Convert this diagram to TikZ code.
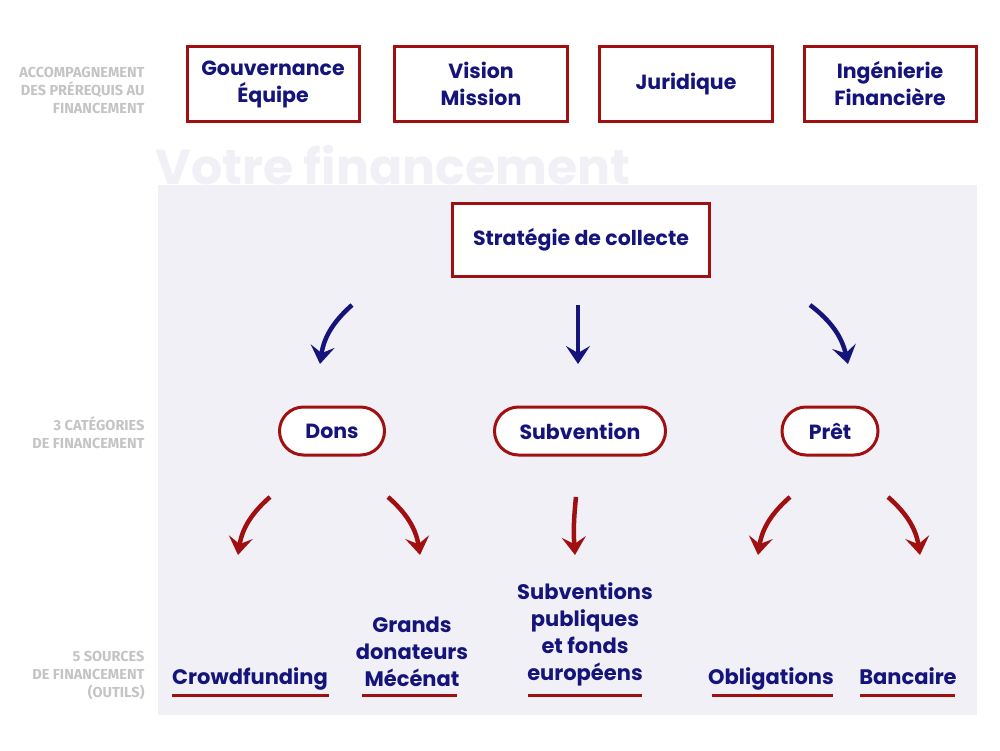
\documentclass[tikz,border=0pt]{standalone}
\usepackage{fontspec}
\setmainfont{Poppins}
\newfontfamily\lbl{Fira Sans}
\usetikzlibrary{arrows.meta}
\definecolor{navy}{HTML}{14147A}
\definecolor{rd}{HTML}{A01010}
\definecolor{panel}{HTML}{F1F0F7}
\definecolor{gr}{HTML}{C4C4C4}
\begin{document}
\begin{tikzpicture}[x=1pt,y=-1pt,
 box/.style={draw=rd,line width=3pt,fill=white,text=navy,font=\fontsize{20.5}{27}\selectfont\bfseries,align=center,inner sep=0pt},
 pill/.style={box,rounded corners=24pt},
 src/.style={text=navy,font=\fontsize{21}{27}\selectfont\bfseries,align=center,anchor=base},
 side/.style={text=gr,font=\lbl\fontsize{14.5}{18}\selectfont\bfseries,align=right,anchor=east},
 ba/.style={navy,line width=4.5pt,-{Stealth[length=18pt,width=24pt,inset=7pt]}},
 ra/.style={rd,line width=4.5pt,-{Stealth[length=18pt,width=24pt,inset=7pt]}},
 ul/.style={rd,line width=3pt}]
\useasboundingbox (0,0) rectangle (1000,750);
\fill[white] (0,0) rectangle (1000,750);
\node[text=panel,font=\fontsize{49}{56}\selectfont\bfseries,anchor=west] (vf) at (152,165) {Votre financement};
\fill[panel] (158,185) rectangle (977,715);
% top
\node[box,minimum width=172pt,minimum height=75pt] (g) at (273,84) {Gouvernance\\Équipe};
\node[box,minimum width=173pt,minimum height=75pt] (v) at (481,84) {Vision\\Mission};
\node[box,minimum width=173pt,minimum height=75pt] (j) at (686,84) {Juridique};
\node[box,minimum width=172pt,minimum height=75pt] (f) at (890,84) {Ingénierie\\Financière};
\node[side] (s1) at (148,90) {ACCOMPAGNEMENT\\DES PRÉREQUIS AU\\FINANCEMENT};
\node[side] (s2) at (148,433) {3 CATÉGORIES\\DE FINANCEMENT};
\node[side] (s3) at (148,675) {5 SOURCES\\DE FINANCEMENT\\(OUTILS)};
\node[box,minimum width=257pt,minimum height=73pt] (st) at (581,240) {Stratégie de collecte};
\node[pill,minimum width=105pt,minimum height=48pt] (d) at (332,431) {Dons};
\node[pill,minimum width=171pt,minimum height=48pt] (sv) at (580,431) {Subvention};
\node[pill,minimum width=96pt,minimum height=48pt] (p) at (830,431) {Prêt};
% blue arrows
\coordinate (a1) at (352,305); \coordinate (b1) at (320,364);
\coordinate (a2) at (578,305); \coordinate (b2) at (578,364);
\coordinate (a3) at (810,305); \coordinate (b3) at (848,364);
\draw[ba] (a1) to[bend right=20] (b1);
\draw[ba] (a2) -- (b2);
\draw[ba] (a3) to[bend left=20] (b3);
% red arrows
\coordinate (c1) at (270,497); \coordinate (e1) at (238,555);
\coordinate (c2) at (388,497); \coordinate (e2) at (420,555);
\coordinate (c3) at (576,497); \coordinate (e3) at (575,555);
\coordinate (c4) at (790,497); \coordinate (e4) at (758,555);
\coordinate (c5) at (888,497); \coordinate (e5) at (920,555);
\draw[ra] (c1) to[bend right=20] (e1);
\draw[ra] (c2) to[bend left=20] (e2);
\draw[ra] (c3) to[bend right=5] (e3);
\draw[ra] (c4) to[bend right=20] (e4);
\draw[ra] (c5) to[bend left=20] (e5);
% sources
\node[src] (cf) at (250,684) {Crowdfunding};
\node[src,anchor=south] (gd) at (412,690) {Grands\\donateurs\\Mécénat};
\node[src,anchor=south] (su) at (585,690) {Subventions\\publiques\\et fonds\\européens};
\node[src] (ob) at (771,684) {Obligations};
\node[src] (bc) at (908,684) {Bancaire};
\draw[ul] (172,695) -- (329,695);
\draw[ul] (362,695) -- (457,695);
\draw[ul] (528,695) -- (642,695);
\draw[ul] (712,695) -- (833,695);
\draw[ul] (860,695) -- (955,695);
\end{tikzpicture}
\end{document}
